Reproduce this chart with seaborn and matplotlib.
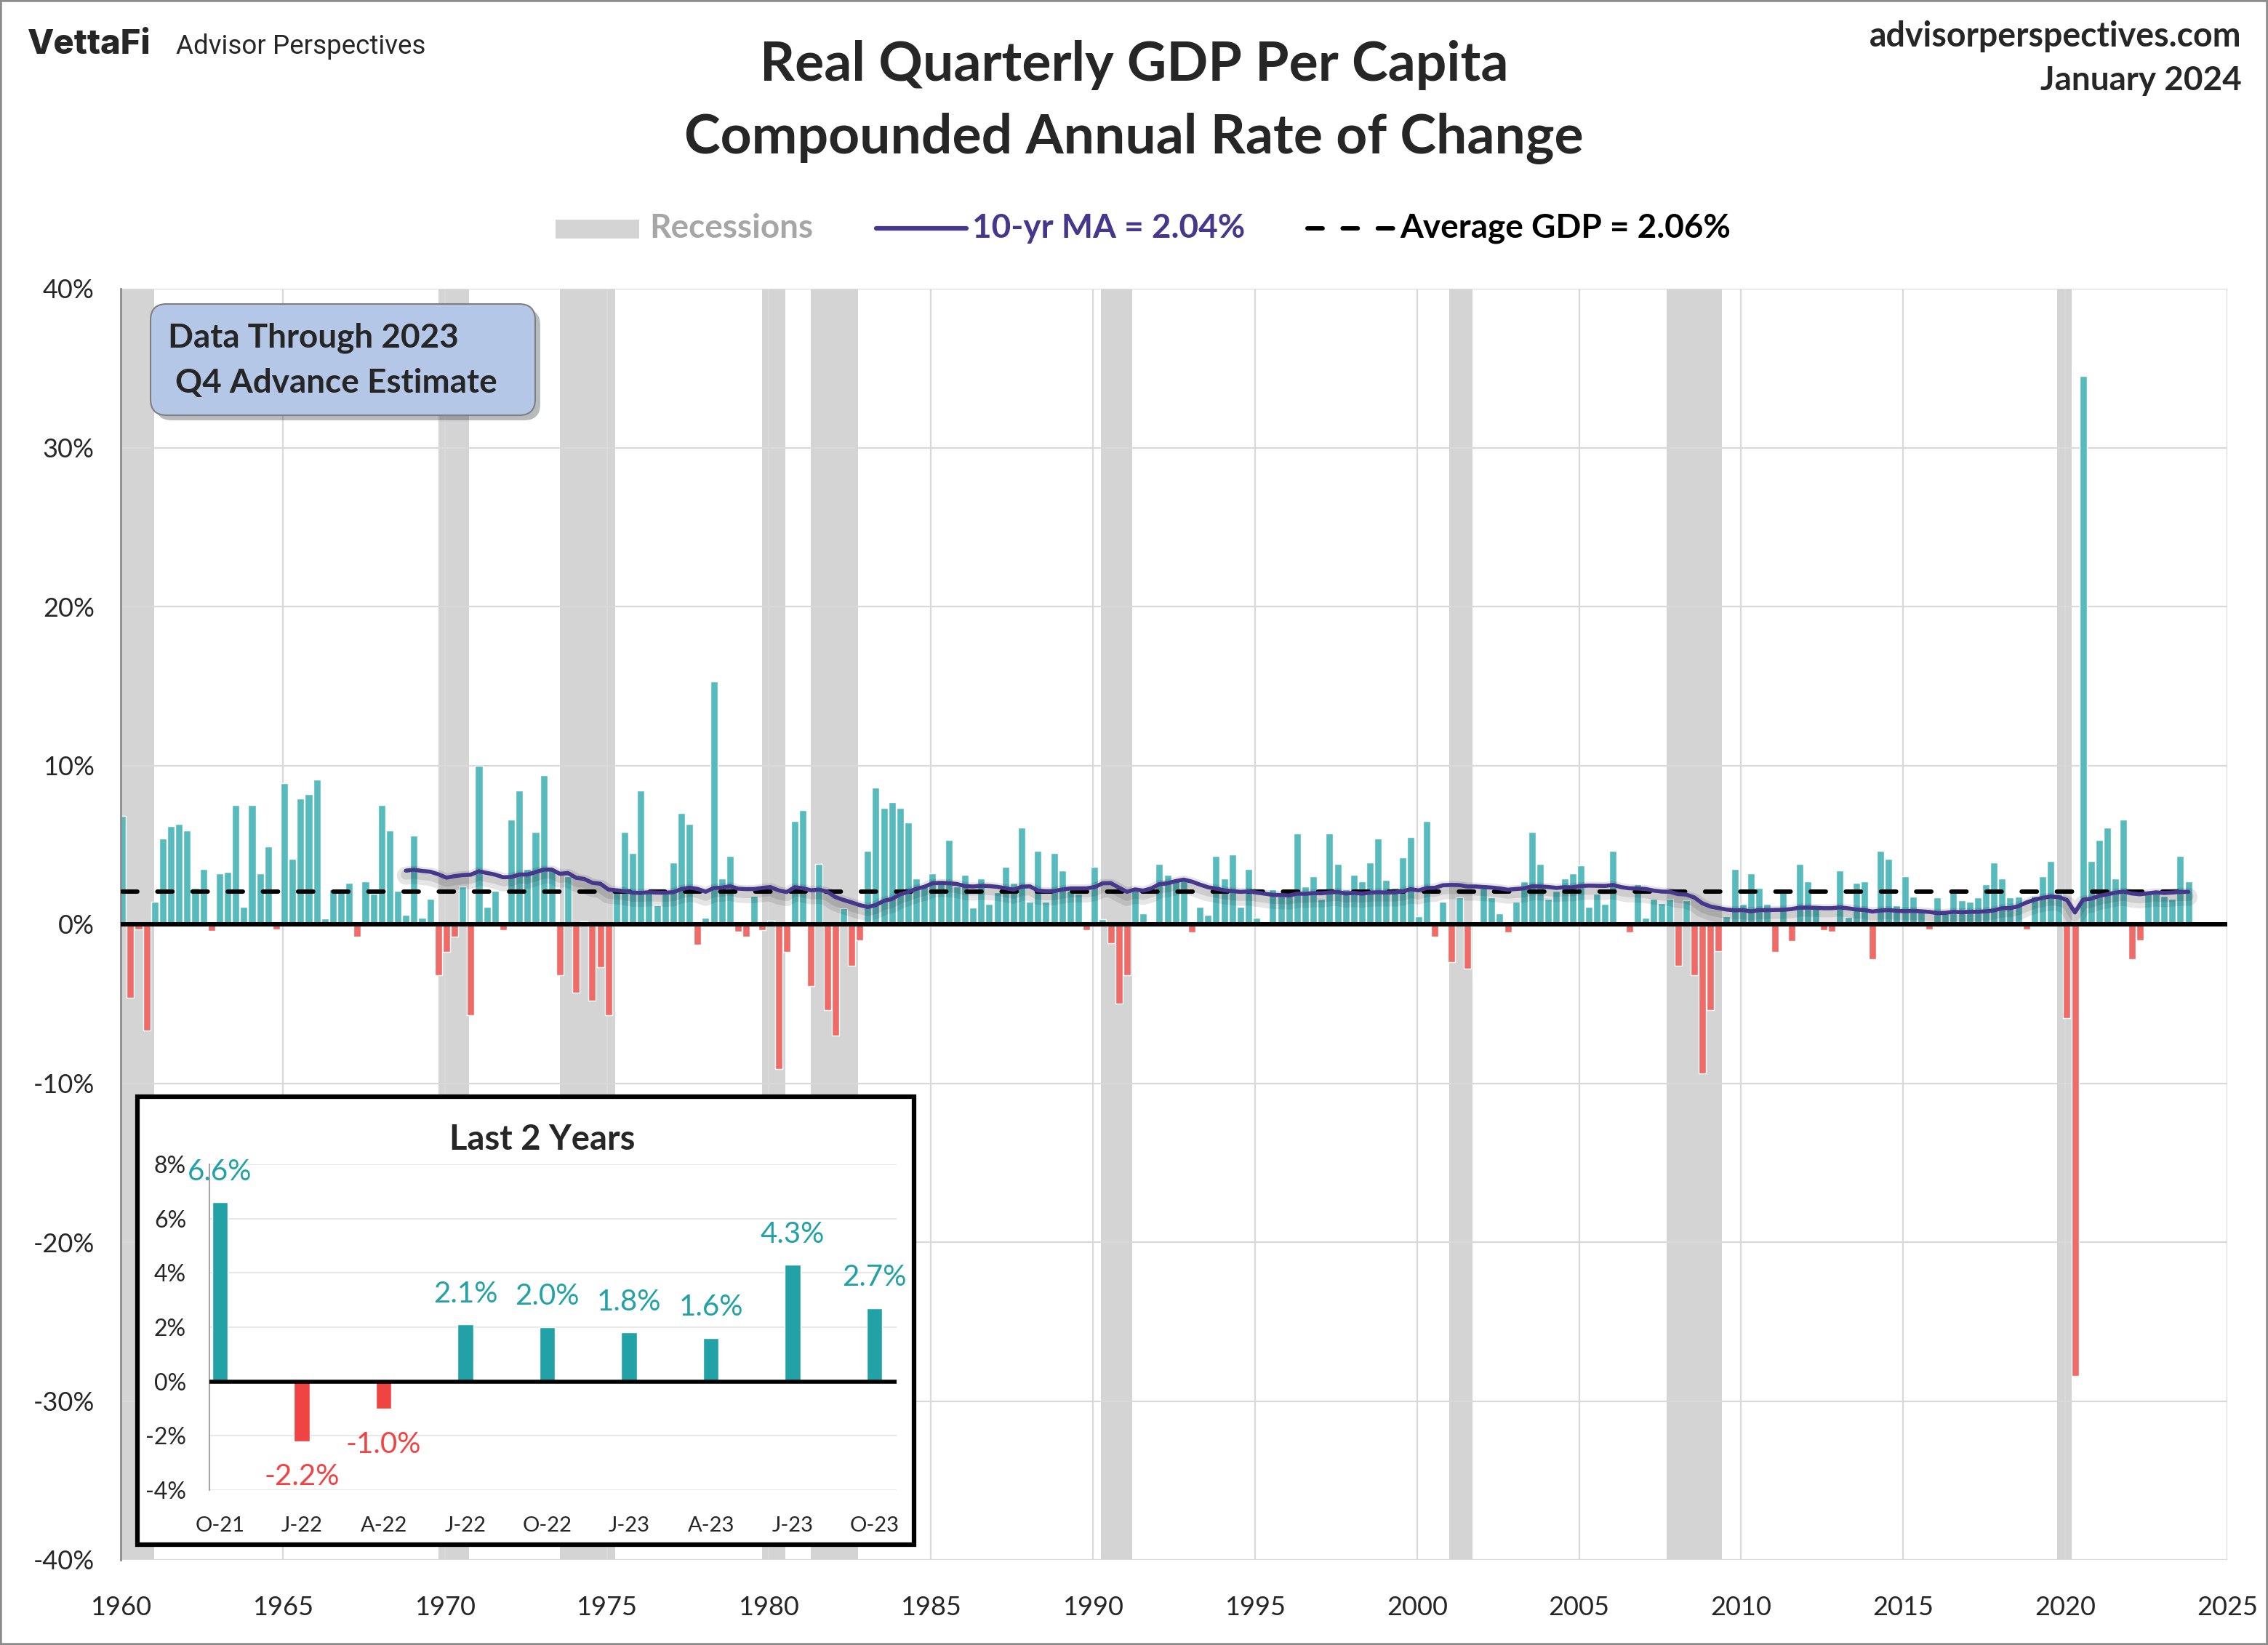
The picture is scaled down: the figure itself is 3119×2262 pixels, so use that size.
"""Real quarterly GDP per capita, compounded annual rate of change (1960-2023)."""

import matplotlib
matplotlib.use("Agg")
import matplotlib.pyplot as plt
import matplotlib.patheffects as pe
from matplotlib.patches import Rectangle, FancyBboxPatch
from matplotlib.lines import Line2D
import numpy as np
import pandas as pd
import seaborn as sns

# ---- data (annualised % change, one row per year) ----
first_year = 1960
growth = [
    6.8, -4.6, -0.3, -6.7,     # 1960
    1.4, 5.4, 6.2, 6.3,        # 1961
    5.9, 2.3, 3.5, -0.4,       # 1962
    3.2, 3.3, 7.5, 1.1,        # 1963
    7.5, 3.2, 4.9, -0.3,       # 1964
    8.9, 4.1, 7.9, 8.2,        # 1965
    9.1, 0.35, 2.2, 2.1,       # 1966
    2.6, -0.8, 2.7, 1.9,       # 1967
    7.5, 5.9, 2.1, 0.6,        # 1968
    5.6, 0.4, 1.6, -3.2,       # 1969
    -1.75, -0.8, 2.4, -5.7,    # 1970
    10.0, 1.1, 2.1, -0.35,     # 1971
    6.6, 8.4, 3.5, 5.8,        # 1972
    9.4, 3.5, -3.2, 3.0,       # 1973
    -4.3, 0.2, -4.8, -2.7,     # 1974
    -5.7, 2.1, 5.8, 4.5,       # 1975
    8.4, 2.1, 1.2, 1.9,        # 1976
    3.9, 7.0, 6.3, -1.3,       # 1977
    0.4, 15.3, 2.9, 4.3,       # 1978
    -0.45, -0.8, 1.8, -0.35,   # 1979
    0.25, -9.1, -1.75, 6.5,    # 1980
    7.2, -3.9, 3.8, -5.4,      # 1981
    -7.0, 1.0, -2.6, -1.0,     # 1982
    4.6, 8.6, 7.3, 7.7,        # 1983
    7.3, 6.4, 2.9, 2.4,        # 1984
    3.2, 2.8, 5.3, 2.4,        # 1985
    3.1, 1.05, 2.9, 1.3,       # 1986
    2.0, 3.6, 2.6, 6.1,        # 1987
    1.4, 4.6, 1.4, 4.5,        # 1988
    3.4, 2.1, 1.9, -0.35,      # 1989
    3.6, 0.3, -1.2, -5.0,      # 1990
    -3.2, 2.1, 0.7, 0.2,       # 1991
    3.8, 3.1, 2.8, 2.9,        # 1992
    -0.5, 1.1, 0.6, 4.3,       # 1993
    2.9, 4.4, 1.1, 3.5,        # 1994
    0.4, 0.15, 2.2, 1.8,       # 1995
    2.1, 5.7, 2.4, 3.0,        # 1996
    1.6, 5.7, 3.8, 2.2,        # 1997
    3.1, 2.7, 3.9, 5.4,        # 1998
    2.8, 2.3, 4.2, 5.5,        # 1999
    0.5, 6.5, -0.8, 1.4,       # 2000
    -2.4, 1.7, -2.8, 0.2,      # 2001
    2.5, 1.7, 0.7, -0.5,       # 2002
    1.4, 2.7, 5.8, 3.8,        # 2003
    1.6, 2.1, 2.9, 3.2,        # 2004
    3.7, 1.1, 1.9, 1.3,        # 2005
    4.6, 0.2, -0.5, 2.5,       # 2006
    0.4, 1.6, 1.35, 1.6,       # 2007
    -2.6, 1.5, -3.2, -9.4,     # 2008
    -5.4, -1.7, 0.5, 3.5,      # 2009
    1.3, 3.2, 2.3, 1.3,        # 2010
    -1.75, 2.0, -1.05, 3.8,    # 2011
    2.7, 1.1, -0.35, -0.45,    # 2012
    3.4, 0.45, 2.6, 2.7,       # 2013
    -2.2, 4.6, 4.1, 1.2,       # 2014
    3.0, 1.75, 0.9, -0.3,      # 2015
    1.7, 0.7, 2.1, 1.5,        # 2016
    1.4, 1.7, 2.5, 3.9,        # 2017
    2.9, 1.7, 1.75, -0.3,      # 2018
    1.8, 3.0, 4.0, 1.9,        # 2019
    -5.9, -28.4, 34.5, 4.0,    # 2020
    5.3, 6.1, 2.9, 6.6,        # 2021
    -2.2, -1.0, 2.1, 2.0,      # 2022
    1.8, 1.6, 4.3, 2.7,        # 2023
]

# recession shading as drawn on the chart (decimal years)
recessions = [
    (1959.9, 1961.04), (1969.8, 1970.75), (1973.55, 1975.25),
    (1979.8, 1980.5), (1981.3, 1982.75), (1990.25, 1991.2),
    (2001.0, 2001.7), (2007.7, 2009.4), (2019.75, 2020.2),
]

ma_latest = 2.04
avg_gdp = 2.06

inset_labels = ["O-21", "J-22", "A-22", "J-22", "O-22", "J-23", "A-23", "J-23", "O-23"]
inset_values = [6.6, -2.2, -1.0, 2.1, 2.0, 1.8, 1.6, 4.3, 2.7]

# ---- styling ----
TEAL = "#57BBBE"
RED = "#EE6B67"
INSET_TEAL = "#22A2A6"
INSET_RED = "#F04444"
PURPLE = "#46378C"
REC_GREY = "#D4D4D4"
GRID = "#D9D9D9"

W, H = 3119, 2262


def fx(x):
    return x / W


def fy(y):
    return 1 - y / H


sns.set_theme(style="white")
plt.rcParams["font.family"] = ["Lato", "DejaVu Sans"]

df = pd.DataFrame({"growth": growth})
df["x"] = first_year + np.arange(len(df)) / 4 + 0.05
df["sign"] = np.where(df["growth"] >= 0, "pos", "neg")
df["ma"] = df["growth"].rolling(40, min_periods=36).mean()
df["avg"] = avg_gdp

fig = plt.figure(figsize=(W / 100, H / 100), dpi=100)
ax = fig.add_axes([fx(166), fy(2145), fx(3063) - fx(166), fy(397) - fy(2145)])

for start, end in recessions:
    ax.axvspan(start, end, color=REC_GREY, lw=0, zorder=0)

sns.barplot(data=df, x="x", y="growth", hue="sign",
            palette={"pos": TEAL, "neg": RED}, native_scale=True, dodge=False,
            width=0.9, saturation=1, errorbar=None, legend=False, ax=ax, zorder=2)

shadow = [pe.SimpleLineShadow(offset=(0, -5), shadow_color="black", alpha=0.10, linewidth=18),
          pe.SimpleLineShadow(offset=(0, -4), shadow_color="black", alpha=0.10, linewidth=10),
          pe.Normal()]
sns.lineplot(data=df, x="x", y="avg", color="black", lw=4.3,
             linestyle=(0, (3.5, 4.6)), dash_capstyle="round", ax=ax, zorder=3)
sns.lineplot(data=df, x="x", y="ma", color=PURPLE, lw=4.0, ax=ax, zorder=4,
             path_effects=shadow)
ax.axhline(0, color="black", lw=4.3, zorder=5)

ax.set_xlim(1960, 2025)
ax.set_ylim(-40, 40)
ax.set_xticks(range(1960, 2026, 5))
ax.set_yticks(range(-40, 41, 10))
ax.set_yticklabels([f"{v}%" for v in range(-40, 41, 10)])
ax.set_xlabel("")
ax.set_ylabel("")
ax.set_axisbelow(True)
ax.grid(True, color=GRID, lw=1.6)
for side in ["top", "right", "bottom"]:
    ax.spines[side].set_visible(False)
ax.spines["left"].set_color("#8C8C8C")
ax.spines["left"].set_linewidth(2)
ax.tick_params(axis="y", labelsize=26, length=10, width=2, color="#8C8C8C", pad=16)
ax.tick_params(axis="x", labelsize=26, length=0, pad=35)

# info box
box = FancyBboxPatch((207 / 100, (H - 571) / 100), 529 / 100, 153 / 100,
                     boxstyle="round,pad=0,rounding_size=0.22", transform=fig.dpi_scale_trans,
                     fc="#B4C7E7", ec="#7F7F7F", lw=1.5, zorder=10)
box.set_path_effects([pe.SimplePatchShadow(offset=(5, -5), alpha=0.35), pe.Normal()])
fig.add_artist(box)
fig.text(fx(231), fy(465), "Data Through 2023", fontsize=33, fontweight="bold",
         ha="left", va="center", zorder=11)
fig.text(fx(241), fy(527), "Q4 Advance Estimate", fontsize=33, fontweight="bold",
         ha="left", va="center", zorder=11)

# inset: last 2 years
fig.add_artist(Rectangle((fx(189), fy(2124)), fx(1257) - fx(189), fy(1508) - fy(2124),
                         transform=fig.transFigure, fc="white", ec="black", lw=4.5, zorder=6))
axin = fig.add_axes([fx(288), fy(2049), fx(1233) - fx(288), fy(1601) - fy(2049)], zorder=7)
axin.patch.set_alpha(0)
inset_df = pd.DataFrame({"pos": range(len(inset_values)), "value": inset_values})
inset_df["sign"] = np.where(inset_df["value"] >= 0, "pos", "neg")
sns.barplot(data=inset_df, x="pos", y="value", hue="sign",
            palette={"pos": INSET_TEAL, "neg": INSET_RED}, dodge=False, width=0.19,
            saturation=1, errorbar=None, legend=False, ax=axin, zorder=2)
axin.axhline(0, color="black", lw=4.0, zorder=3)
for i, v in enumerate(inset_values):
    col = INSET_TEAL if v >= 0 else INSET_RED
    axin.annotate(f"{v:.1f}%", (i, v), xytext=(0, 17 if v >= 0 else -22),
                  textcoords="offset points", ha="center",
                  va="bottom" if v >= 0 else "top", fontsize=29, color=col)
axin.set_xlim(-0.13, 8.27)
axin.set_ylim(-4, 8)
axin.set_yticks(range(-4, 9, 2))
axin.set_yticklabels([f"{v}%" for v in range(-4, 9, 2)])
axin.set_xticks(range(len(inset_labels)))
axin.set_xticklabels(inset_labels)
axin.set_xlabel("")
axin.set_ylabel("")
axin.set_axisbelow(True)
axin.yaxis.grid(True, color="#E3E3E3", lw=1.2)
for side in ["top", "right", "bottom"]:
    axin.spines[side].set_visible(False)
axin.spines["left"].set_color("#A6A6A6")
axin.spines["left"].set_linewidth(1.5)
axin.tick_params(axis="y", labelsize=23, length=0, pad=23)
axin.tick_params(axis="x", labelsize=21, length=0, pad=26)
fig.text(fx(746), fy(1567), "Last 2 Years", fontsize=34, fontweight="bold",
         ha="center", va="center", zorder=8)

# legend row
fig.add_artist(Rectangle((fx(764), fy(328)), fx(879) - fx(764), fy(302) - fy(328),
                         transform=fig.transFigure, color=REC_GREY, lw=0))
fig.text(fx(893), fy(314), "Recessions", fontsize=33, fontweight="bold",
         color="#A6A6A6", ha="left", va="center")
fig.add_artist(Line2D([fx(1205), fx(1329)], [fy(314), fy(314)], color=PURPLE, lw=4.5,
                      transform=fig.transFigure))
fig.text(fx(1337), fy(314), f"10-yr MA = {ma_latest:.2f}%", fontsize=33, fontweight="bold",
         color=PURPLE, ha="left", va="center")
fig.add_artist(Line2D([fx(1798), fx(1919)], [fy(314), fy(314)], color="black", lw=4.3,
                      linestyle=(0, (3.5, 4.6)), dash_capstyle="round",
                      transform=fig.transFigure))
fig.text(fx(1925), fy(314), f"Average GDP = {avg_gdp:.2f}%", fontsize=33, fontweight="bold",
         color="black", ha="left", va="center")

# titles and branding
fig.text(0.5, fy(90), "Real Quarterly GDP Per Capita", fontsize=54, fontweight="bold",
         ha="center", va="center")
fig.text(0.5, fy(190), "Compounded Annual Rate of Change", fontsize=54, fontweight="bold",
         ha="center", va="center")
fig.text(fx(3083), fy(50), "advisorperspectives.com", fontsize=33.5, fontweight="bold",
         ha="right", va="center")
fig.text(fx(3083), fy(111), "January 2024", fontsize=33, fontweight="bold",
         ha="right", va="center")
fig.text(fx(38), fy(62), "VettaFi", fontsize=34, fontweight="heavy", family="Inter",
         ha="left", va="center")
fig.text(fx(242), fy(64), "Advisor Perspectives", fontsize=26.5, family="Roboto",
         ha="left", va="center")

fig.add_artist(Rectangle((0, 0), 1, 1, transform=fig.transFigure, fill=False,
                         ec="#8C8C8C", lw=4))

fig.savefig("out.png", dpi=100)
plt.close(fig)
